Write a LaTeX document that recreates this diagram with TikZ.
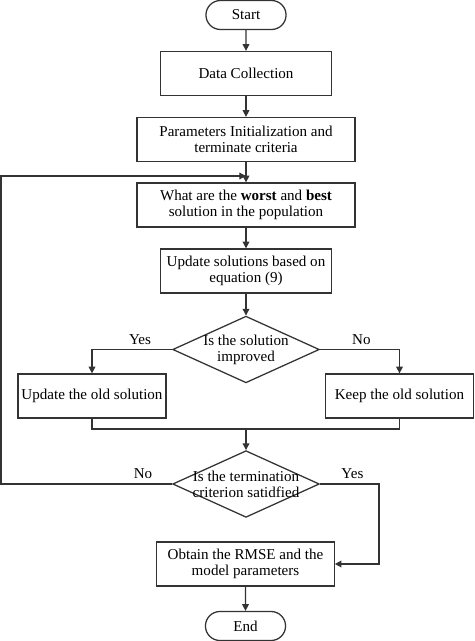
\documentclass[tikz,border=0pt]{standalone}
\usepackage{fontspec}
\setmainfont{Liberation Serif}
\usetikzlibrary{shapes.geometric, shapes.misc, arrows.meta}

\begin{document}
\begin{tikzpicture}[x=0.75pt, y=-0.75pt, line width=0.95pt,
  font=\fontsize{11.3}{12}\selectfont,
  box/.style = {draw=black!80, rectangle, minimum height=33pt, align=center, inner sep=2pt},
  term/.style = {draw=black!80, rounded rectangle, minimum width=66.75pt, minimum height=21.75pt},
  decision/.style = {draw=black!80, diamond, minimum width=110pt, minimum height=50pt, inner sep=0pt},
  flow/.style = {draw=black!80, -{Triangle[length=5pt, width=5pt]}},
  line/.style = {draw=black!80}]
\useasboundingbox (0,0) rectangle (474,641);

\node[term] (start) at (246,15) {Start};
\node[box, minimum width=128pt] (data) at (246,73.5) {Data Collection};
\node[box, minimum width=163.5pt] (init) at (246,139.5) {Parameters Initialization and\\terminate criteria};
\node[box, minimum width=163.5pt] (pop) at (246,205) {What are the \textbf{worst} and \textbf{best}\\solution in the population};
\node[box, minimum width=128pt] (upd) at (246,271) {Update solutions based on\\equation (9)};
\node[decision] (imp) at (246,349.5) {};
\node[align=center] (impt) at (imp) {Is the solution\\improved};
\node[box, minimum width=111pt] (new) at (92,396) {Update the old solution};
\node[box, minimum width=111pt] (keep) at (399.5,396) {Keep the old solution};
\coordinate (merge) at (246,429);
\node[decision] (stop) at (246,484) {};
\node[align=center] (stopt) at (stop) {Is the termination\\criterion satidfied};
\node[box, minimum width=133pt] (res) at (245.5,564) {Obtain the RMSE and the\\model parameters};
\node[term] (end) at (245.5,626) {End};

% loop corners
\coordinate (back) at (1,484);
\coordinate (backtop) at (1,176);
\coordinate (yesturn) at (379,484);

\draw[flow] (start) -- (data);
\draw[flow] (data) -- (init);
\draw[flow] (init) -- (pop);
\draw[flow] (pop) -- (upd);
\draw[flow] (upd) -- (imp);
\draw[flow] (imp.west) -| (new.north) node[pos=0.2, above] {Yes};
\draw[flow] (imp.east) -| (keep.north) node[pos=0.26, above] {No};
\draw[line] (new.south) |- (merge) -| (keep.south);
\draw[flow] (merge) -- (stop);
\draw[flow] (stop.west) -- (back) node[pos=0.17, above] {No} -- (backtop) -- (backtop -| pop.north);
\draw[flow] (stop.east) -- (yesturn) node[pos=0.55, above] {Yes} |- (res.east);
\draw[flow] (res) -- (end);
\end{tikzpicture}
\end{document}
